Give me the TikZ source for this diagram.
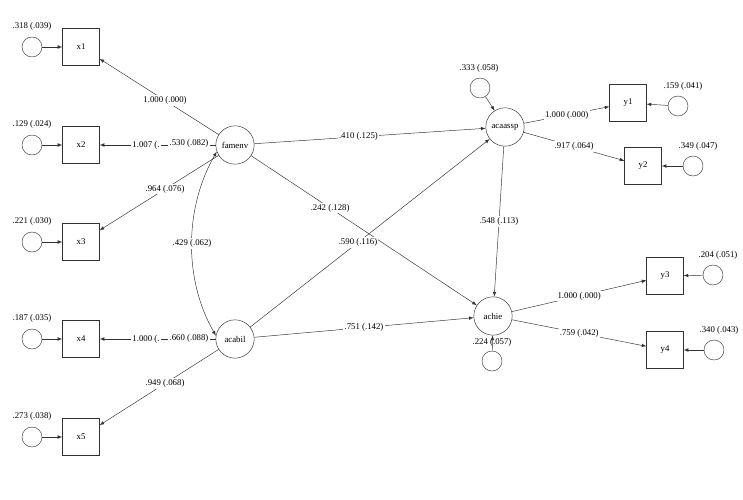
\documentclass[tikz,border=0pt]{standalone}
\usepackage{fontspec}
\setmainfont{Liberation Serif}
\usetikzlibrary{arrows, calc, positioning}
\tikzstyle{obs}   = [rectangle,draw=black!80,minimum size=1.1cm,inner sep=0pt]
\tikzstyle{lat}   = [circle,draw=black!80,minimum size=1.15cm,inner sep=0pt]
\tikzstyle{err}   = [circle,draw=black!80,minimum size=0.6cm,inner sep=0pt]
\tikzstyle{path}  = [-latex,draw=black!80,thin]
\tikzstyle{est}   = [fill=white,inner sep=1pt]
\begin{document}
\begin{tikzpicture}[x=0.03cm,y=-0.03cm,font=\fontsize{7.5}{8.5}\selectfont]
        \useasboundingbox (0,0) rectangle (743,500);
        % indicators
        \foreach \n/\y/\v in {1/47/.318 (.039),2/145/.129 (.024),3/242/.221 (.030),4/339/.187 (.035),5/437/.273 (.038)}{
            \node[obs] (x\n)  at (81,\y) {x\n};
            \node[err] (ex\n) at (32,\y) {};
            \node      at (32,\y-21) {\v};
            \draw[path] (ex\n) -- (x\n);
        }
        \node[lat] (famenv)  at (235,145) {famenv};
        \node[lat] (acabil)  at (235,339) {acabil};
        \node[lat] (acaassp) at (505,127) {acaassp};
        \node[lat] (achie)   at (493,316) {achie};

        \node[obs] (y1) at (628,103) {y1};
        \node[obs] (y2) at (643,166) {y2};
        \node[obs] (y3) at (665,276) {y3};
        \node[obs] (y4) at (665,350) {y4};
        \foreach \n/\x/\y/\v in {1/678/106/.159 (.041),2/693/166/.349 (.047),3/713/275/.204 (.051),4/714/350/.340 (.043)}{
            \node[err] (ey\n) at (\x,\y) {};
            \node      at (\x+5,\y-20) {\v};
            \draw[path] (ey\n) -- (y\n);
        }
        \node[err] (e1) at (480,88)  {};
        \node           at (479,68)  {.333 (.058)};
        \node[err] (e2) at (492,361) {};
        \node           at (492,342) {.224 (.057)};
        \draw[path] (e1) -- (acaassp);
        \draw[path] (e2) -- (achie);

        % loadings
        \draw[path] (famenv) -- node[est,pos=0.45] {1.000 (.000)} (x1);
        \draw[path] (famenv) -- node[est,pos=0.6] {1.007 (.} (x2);
        \draw[path] (famenv) -- node[est,pos=0.45] {.964 (.076)} (x3);
        \draw[path] (acabil) -- node[est,pos=0.6] {1.000 (.} (x4);
        \draw[path] (acabil) -- node[est,pos=0.45] {.949 (.068)} (x5);
        \node[est] at (189,143) {.530 (.082)};
        \node[est] at (189,338) {.660 (.088)};
        \draw[latex-latex,draw=black!80,thin] (famenv.200) to[out=240,in=120,looseness=0.9] node[est,pos=0.5] {.429 (.062)} (acabil.170);

        % structural paths
        \draw[path] (famenv)  -- node[est,pos=0.45] {.410 (.125)} (acaassp);
        \draw[path] (famenv)  -- node[est,pos=0.35] {.242 (.128)} (achie);
        \draw[path] (acabil)  -- node[est,pos=0.45] {.590 (.116)} (acaassp);
        \draw[path] (acabil)  -- node[est,pos=0.5] {.751 (.142)} (achie);
        \draw[path] (acaassp) -- node[est,pos=0.5] {.548 (.113)} (achie);
        \draw[path] (acaassp) -- node[est,pos=0.5] {1.000 (.000)} (y1);
        \draw[path] (acaassp) -- node[est,pos=0.5] {.917 (.064)} (y2);
        \draw[path] (achie)   -- node[est,pos=0.5] {1.000 (.000)} (y3);
        \draw[path] (achie)   -- node[est,pos=0.5] {.759 (.042)} (y4);
\end{tikzpicture}
\end{document}
